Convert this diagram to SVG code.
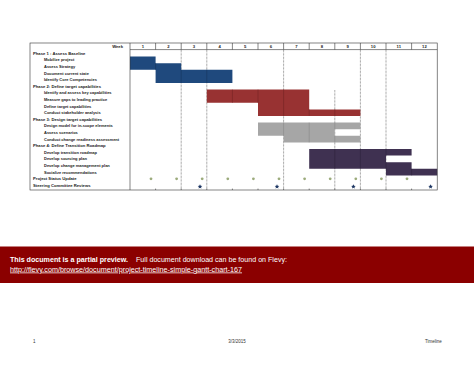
<svg xmlns="http://www.w3.org/2000/svg" width="474" height="366" viewBox="0 0 474 366">
<style>
.lbl{font-family:"Liberation Sans",Arial,sans-serif;font-size:4.2px;font-weight:bold;fill:#222}
.task{font-family:"Liberation Sans",Arial,sans-serif;font-size:4px;font-weight:bold;fill:#222}
.hdr{font-family:"Liberation Sans",Arial,sans-serif;font-size:4.2px;font-weight:bold;fill:#222;text-anchor:middle}
.grid{stroke:#333;stroke-width:0.6;fill:none}
.dot{stroke:#333;stroke-width:0.6;stroke-dasharray:0.7 0.7;fill:none}
.inner{stroke-width:0.5;fill:none}
.ms{fill:#9cab7c}
.star{fill:#1f3864}
.ban{font-family:"Liberation Sans",Arial,sans-serif;font-size:7.6px;fill:#fff}
.foot{font-family:"Liberation Sans",Arial,sans-serif;font-size:4.5px;fill:#333}
</style>
<rect width="474" height="366" fill="#fff"/>
<g id="dotted-lines">
<line class="dot" x1="181.2" y1="50" x2="181.2" y2="189"/>
<line class="dot" x1="206.8" y1="50" x2="206.8" y2="189"/>
<line class="dot" x1="283.6" y1="50" x2="283.6" y2="189"/>
<line class="dot" x1="334.8" y1="90" x2="334.8" y2="189"/>
<line class="dot" x1="360.4" y1="50" x2="360.4" y2="189"/>
<line class="dot" x1="386" y1="50" x2="386" y2="189"/>
</g>
<g id="bar-phase1">
<path d="M130 56.6H155.6V63.2H181.2V69.8H232.4V83H155.6V69.8H130Z" fill="#1f497d"/>
<path class="inner" stroke="#143358" d="M155.6 63.2V69.8M181.2 69.8V83M206.8 69.8V83"/>
</g>
<g id="bar-phase2">
<path d="M206.8 89.6H309.2V109.4H360.4V116H258V102.8H206.8Z" fill="#983232"/>
<path class="inner" stroke="#6e2020" d="M232.4 89.6V102.8M258 89.6V102.8M283.6 89.6V116M309.2 109.4V116M334.8 109.4V116"/>
</g>
<g id="bar-phase3">
<path d="M258 122.6H360.4V129.2H334.8V135.8H360.4V142.4H283.6V135.8H258Z" fill="#a6a6a6"/>
<path class="inner" stroke="#808080" d="M283.6 122.6V135.8M309.2 122.6V142.4M334.8 122.6V129.2M334.8 135.8V142.4"/>
</g>
<g id="bar-phase4">
<path d="M309.2 149H411.6V155.6H386V162.2H411.6V168.8H437.2V175.4H386V168.8H309.2Z" fill="#3f3151"/>
<path class="inner" stroke="#2a2038" d="M334.8 149V168.8M360.4 149V168.8M386 149V155.6M386 162.2V168.8M411.6 168.8V175.4"/>
</g>
<g id="table">
<rect class="grid" x="30" y="43" width="407.2" height="147"/>
<line class="grid" x1="130" y1="43" x2="130" y2="190"/>
<line class="grid" x1="130" y1="49.6" x2="437.2" y2="49.6"/>
<path class="grid" d="M155.6 43V49.6M181.2 43V49.6M206.8 43V49.6M232.4 43V49.6M258 43V49.6M283.6 43V49.6M309.2 43V49.6M334.8 43V49.6M360.4 43V49.6M386 43V49.6M411.6 43V49.6"/>
<path class="grid" d="M155.6 188.6V190M181.2 188.6V190M206.8 188.6V190M232.4 188.6V190M258 188.6V190M283.6 188.6V190M309.2 188.6V190M334.8 188.6V190M360.4 188.6V190M386 188.6V190M411.6 188.6V190"/>
<text class="lbl" x="123" y="47.8" text-anchor="end">Week</text>
<text class="hdr" x="142.8" y="47.8">1</text>
<text class="hdr" x="168.4" y="47.8">2</text>
<text class="hdr" x="194" y="47.8">3</text>
<text class="hdr" x="219.6" y="47.8">4</text>
<text class="hdr" x="245.2" y="47.8">5</text>
<text class="hdr" x="270.8" y="47.8">6</text>
<text class="hdr" x="296.4" y="47.8">7</text>
<text class="hdr" x="322" y="47.8">8</text>
<text class="hdr" x="347.6" y="47.8">9</text>
<text class="hdr" x="373.2" y="47.8">10</text>
<text class="hdr" x="398.8" y="47.8">11</text>
<text class="hdr" x="424.4" y="47.8">12</text>
</g>
<g id="labels">
<text class="lbl" x="33" y="54.8">Phase 1 : Assess Baseline</text>
<text class="task" x="44" y="61.4">Mobilize project</text>
<text class="task" x="44" y="68">Assess Strategy</text>
<text class="task" x="44" y="74.6">Document current state</text>
<text class="task" x="44" y="81.2">Identify Core Competencies</text>
<text class="lbl" x="33" y="87.8">Phase 2: Define target capabilities</text>
<text class="task" x="44" y="94.4">Identify and assess key capabilities</text>
<text class="task" x="44" y="101">Measure gaps to leading practice</text>
<text class="task" x="44" y="107.6">Define target capabilities</text>
<text class="task" x="44" y="114.2">Conduct stakeholder analysis</text>
<text class="lbl" x="33" y="120.8">Phase 3: Design target capabilities</text>
<text class="task" x="44" y="127.4">Design model for in-scope elements</text>
<text class="task" x="44" y="134">Assess scenarios</text>
<text class="task" x="44" y="140.6">Conduct change readiness assessment</text>
<text class="lbl" x="33" y="147.2">Phase 4: Define Transition Roadmap</text>
<text class="task" x="44" y="153.8">Develop transition roadmap</text>
<text class="task" x="44" y="160.4">Develop sourcing plan</text>
<text class="task" x="44" y="167">Develop change management plan</text>
<text class="task" x="44" y="173.6">Socialize recommendations</text>
<text class="lbl" x="33" y="180.2">Project Status Update</text>
<text class="lbl" x="33" y="187">Steering Committee Reviews</text>
</g>
<g id="status-milestones">
<circle class="ms" cx="151" cy="178.8" r="1.4"/>
<circle class="ms" cx="176.6" cy="178.8" r="1.4"/>
<circle class="ms" cx="202.2" cy="178.8" r="1.4"/>
<circle class="ms" cx="227.8" cy="178.8" r="1.4"/>
<circle class="ms" cx="253.4" cy="178.8" r="1.4"/>
<circle class="ms" cx="279" cy="178.8" r="1.4"/>
<circle class="ms" cx="304.6" cy="178.8" r="1.4"/>
<circle class="ms" cx="330.2" cy="178.8" r="1.4"/>
<circle class="ms" cx="355.8" cy="178.8" r="1.4"/>
<circle class="ms" cx="381.4" cy="178.8" r="1.4"/>
<circle class="ms" cx="407" cy="178.8" r="1.4"/>
</g>
<g id="steering-milestones">
<defs><polygon id="st" points="0,-2.3 0.7,-0.75 2.3,-0.7 1.05,0.35 1.45,1.95 0,1.05 -1.45,1.95 -1.05,0.35 -2.3,-0.7 -0.7,-0.75"/></defs>
<use href="#st" class="star" x="200" y="186.6"/>
<use href="#st" class="star" x="277" y="186.6"/>
<use href="#st" class="star" x="353.4" y="186.6"/>
<use href="#st" class="star" x="430.6" y="186.6"/>
</g>
<g id="banner">
<rect x="0" y="246.5" width="474" height="36.5" fill="#8b0000"/>
<text class="ban" x="10" y="261.5" font-weight="bold" textLength="118" lengthAdjust="spacingAndGlyphs">This document is a partial preview.</text>
<text class="ban" x="136" y="261.5" textLength="151" lengthAdjust="spacingAndGlyphs">Full document download can be found on Flevy:</text>
<text class="ban" x="10" y="271.5" text-decoration="underline" textLength="232" lengthAdjust="spacingAndGlyphs">http://flevy.com/browse/document/project-timeline-simple-gantt-chart-167</text>
</g>
<g id="footer">
<text class="foot" x="33" y="342.5">1</text>
<text class="foot" x="237" y="342.5" text-anchor="middle">3/3/2015</text>
<text class="foot" x="425" y="342.5">Timeline</text>
</g>
</svg>
